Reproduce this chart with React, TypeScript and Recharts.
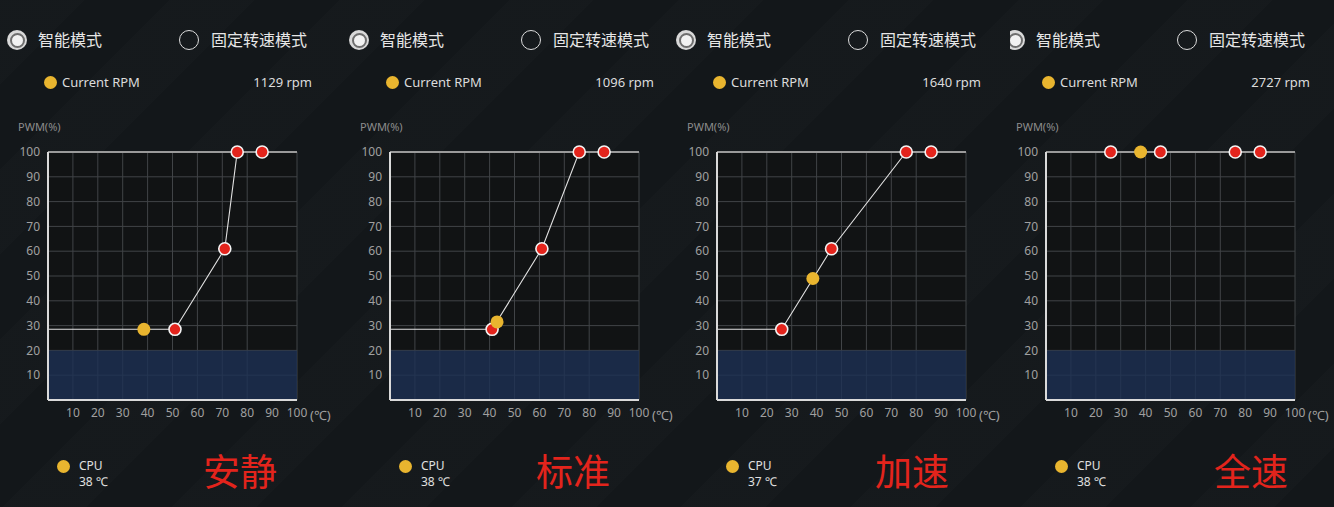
import { CartesianGrid, ComposedChart, Line, ReferenceArea, ReferenceLine, Scatter, XAxis, YAxis } from "recharts";

const MODE_LABELS = ["安静", "标准", "加速", "全速"];
const RPM_VALUES = [1129, 1096, 1640, 2727];
const CPU_TEMPS = [38, 38, 37, 38];

// fan curve control points, one row per mode
const CURVE_TEMPS = [
  [51, 71, 76, 86],
  [41, 61, 76, 86],
  [26, 46, 76, 86],
  [26, 46, 76, 86],
];
const CURVE_PWM = [
  [28.5, 61, 100, 100],
  [28.5, 61, 100, 100],
  [28.5, 61, 100, 100],
  [100, 100, 100, 100],
];

// current operating point (cpu temp, pwm)
const CURRENT_TEMP = [38.5, 43, 38.5, 38];
const CURRENT_PWM = [28.5, 31.5, 49, 100];

const AXIS_TICKS = [10, 20, 30, 40, 50, 60, 70, 80, 90, 100];

const PANEL_LEFT = [0, 342, 669, 998];
const LABEL_CENTER = [240, 231, 243, 253];

const FONT = "'Noto Sans', 'Noto Sans CJK SC', sans-serif";
const RED = "#e3241c";
const YELLOW = "#e9b52f";

function Radio({ checked }: { checked: boolean }) {
  if (checked) {
    return (
      <div style={{ width: 20, height: 20, borderRadius: "50%", background: "#d9d9d9", display: "flex", alignItems: "center", justifyContent: "center" }}>
        <div style={{ width: 11, height: 11, borderRadius: "50%", background: "#f2f2f2", border: "2px solid #6e6e6e" }} />
      </div>
    );
  }
  return <div style={{ width: 18, height: 18, borderRadius: "50%", border: "1.5px solid #dcdcdc" }} />;
}

function Panel({ index }: { index: number }) {
  const temps = CURVE_TEMPS[index];
  const pwm = CURVE_PWM[index];
  const points = temps.map((t, i) => ({ x: t, y: pwm[i] }));
  const lineData = [{ x: 0, y: pwm[0] }, ...points];
  const current = [{ x: CURRENT_TEMP[index], y: CURRENT_PWM[index] }];

  return (
    <div
      style={{
        position: "absolute",
        left: PANEL_LEFT[index],
        top: 0,
        width: 336,
        height: 507,
        fontFamily: FONT,
        clipPath: index === 3 ? "inset(0 0 0 12px)" : undefined,
      }}
    >
      <div style={{ position: "absolute", left: 7, top: 30 }}>
        <Radio checked />
      </div>
      <div style={{ position: "absolute", left: 38, top: 27, fontSize: 16, color: "#e6e6e6" }}>智能模式</div>
      <div style={{ position: "absolute", left: 179, top: 30 }}>
        <Radio checked={false} />
      </div>
      <div style={{ position: "absolute", left: 211, top: 27, fontSize: 16, color: "#e6e6e6" }}>固定转速模式</div>

      <div style={{ position: "absolute", left: 44, top: 76, width: 13, height: 13, borderRadius: "50%", background: YELLOW }} />
      <div style={{ position: "absolute", left: 62, top: 73, fontSize: 13, color: "#dcdcdc" }}>Current RPM</div>
      <div style={{ position: "absolute", right: 336 - 312, top: 73, fontSize: 13, color: "#dcdcdc" }}>{RPM_VALUES[index]} rpm</div>

      <div style={{ position: "absolute", left: 18, top: 119, fontSize: 11, color: "#8c8c8c" }}>PWM(%)</div>

      <div style={{ position: "absolute", left: 0, top: 0 }}>
        <ComposedChart width={336} height={440} data={lineData} margin={{ top: 152, right: 39, bottom: 10, left: 0 }}>
          <CartesianGrid stroke="#414447" fill="#111314" />
          <ReferenceArea y1={0} y2={20} fill="#1d3154" fillOpacity={0.8} stroke="none" />
          <XAxis
            type="number"
            dataKey="x"
            domain={[0, 100]}
            ticks={AXIS_TICKS}
            tickLine={false}
            height={30}
            axisLine={{ stroke: "#dadada", strokeWidth: 2 }}
            tick={{ fill: "#a0a0a0", fontSize: 12, fontFamily: FONT }}
            label={{ value: "(℃)", position: "right", offset: 13, fill: "#a0a0a0", fontSize: 13, fontFamily: FONT }}
          />
          <YAxis
            type="number"
            domain={[0, 100]}
            ticks={AXIS_TICKS}
            tickLine={false}
            width={48}
            axisLine={{ stroke: "#dadada", strokeWidth: 2 }}
            tick={{ fill: "#a0a0a0", fontSize: 12, fontFamily: FONT }}
          />
          <Line dataKey="y" stroke="#e2e2e2" strokeWidth={1.1} dot={false} isAnimationActive={false} />
          <ReferenceLine y={100} stroke="#9a9a9a" strokeWidth={2} />
          <Scatter data={points} dataKey="y" fill={RED} isAnimationActive={false}
            shape={(p: any) => <circle cx={p.cx} cy={p.cy} r={6} fill={RED} stroke="#f4f4f4" strokeWidth={1.6} />} />
          <Scatter data={current} dataKey="y" fill={YELLOW} isAnimationActive={false}
            shape={(p: any) => <circle cx={p.cx} cy={p.cy} r={6.5} fill={YELLOW} />} />
        </ComposedChart>
      </div>

      <div style={{ position: "absolute", left: 57, top: 460, width: 13, height: 13, borderRadius: "50%", background: YELLOW }} />
      <div style={{ position: "absolute", left: 79, top: 458, fontSize: 12, color: "#e0e0e0", lineHeight: "16px" }}>
        CPU
        <br />
        {CPU_TEMPS[index]} ℃
      </div>
      <div style={{ position: "absolute", left: LABEL_CENTER[index] - 60, width: 120, top: 448, textAlign: "center", fontSize: 37, lineHeight: "48px", color: RED }}>
        {MODE_LABELS[index]}
      </div>
    </div>
  );
}

export default function App() {
  return (
    <div
      style={{
        position: "fixed",
        left: 0,
        top: 0,
        width: 1334,
        height: 507,
        overflow: "hidden",
        background: "#13171a",
        backgroundImage: "repeating-linear-gradient(135deg, rgba(255,255,255,0.012) 0px, rgba(255,255,255,0.012) 60px, rgba(0,0,0,0) 60px, rgba(0,0,0,0) 120px)",
      }}
    >
      {MODE_LABELS.map((_, i) => (
        <Panel key={i} index={i} />
      ))}
    </div>
  );
}
